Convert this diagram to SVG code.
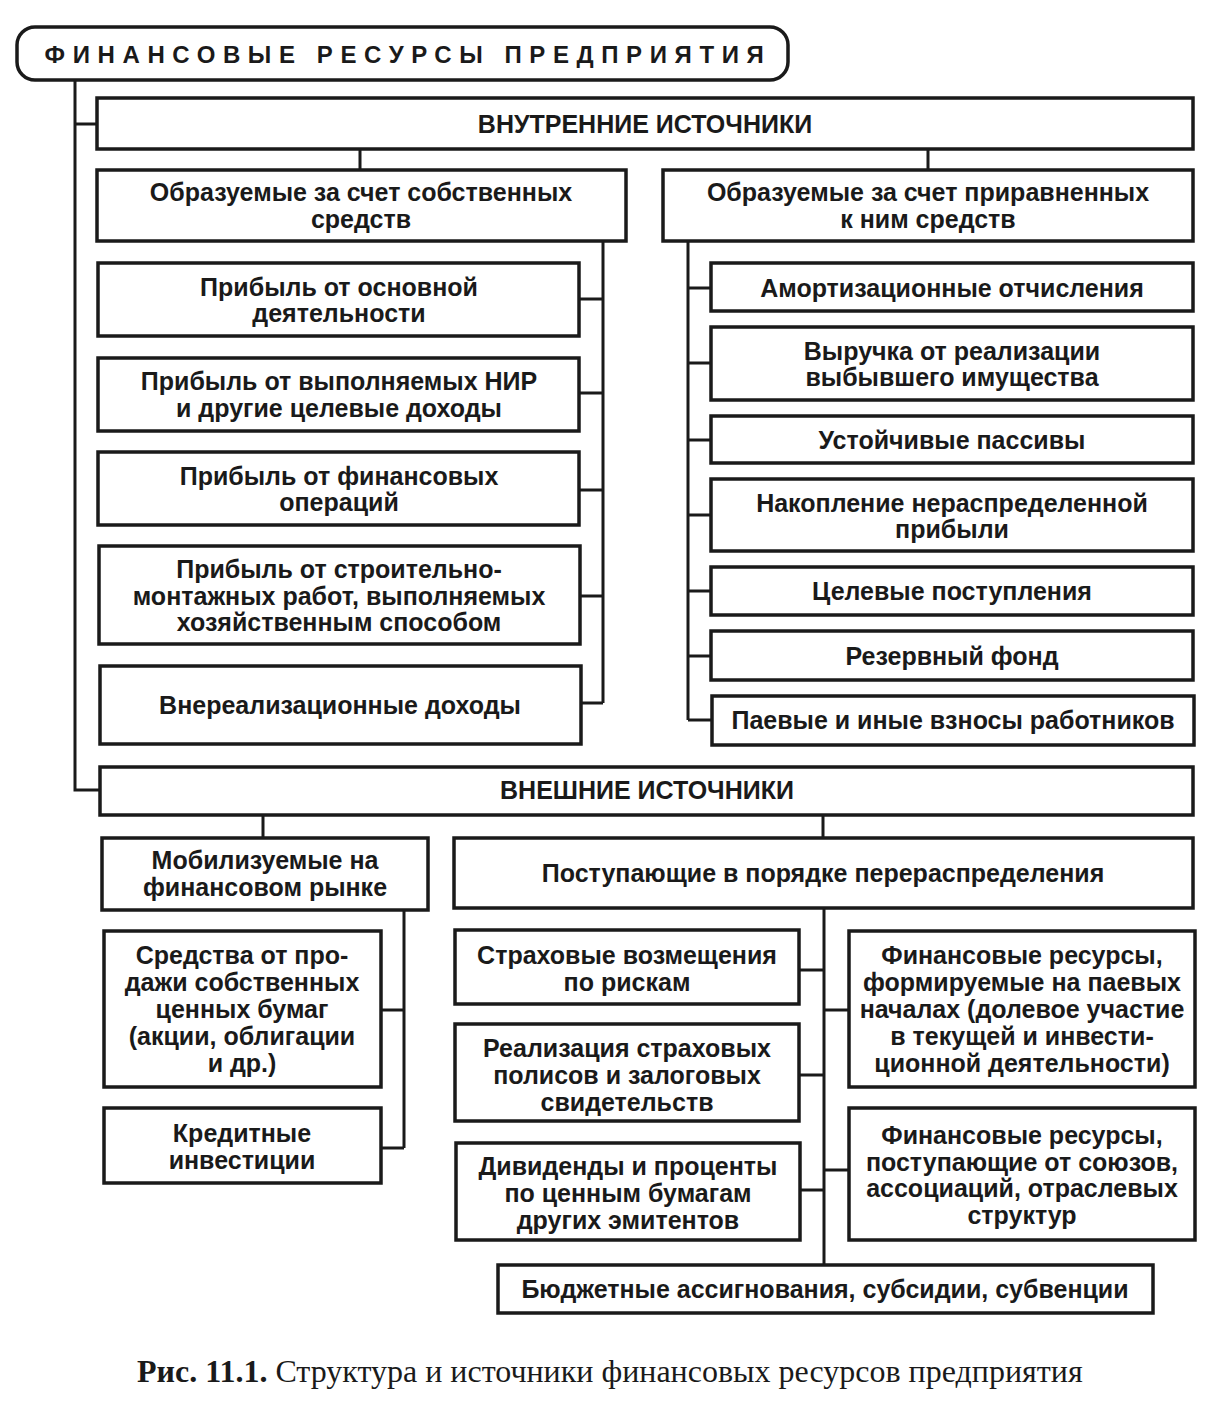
<svg xmlns="http://www.w3.org/2000/svg" width="1215" height="1407" viewBox="0 0 1215 1407">
<style>
.b{fill:#fff;stroke:#1a1a1a;stroke-width:3.5}
.t{font-family:"Liberation Sans",Arial,sans-serif;font-weight:bold;font-size:25px;fill:#1a1a1a;text-anchor:middle;dominant-baseline:central}
.c{fill:none;stroke:#1a1a1a;stroke-width:3}
.cap{font-family:"Liberation Serif","Times New Roman",serif;font-size:32px;fill:#1a1a1a}
</style>
<rect width="1215" height="1407" fill="#fff"/>
<g id="connectors">
<path class="c" d="M75 80V790H100M75 124H97"/>
<path class="c" d="M360 149V170M928 149V170"/>
<path class="c" d="M603 241V703M579 299H603M579 393H603M579 490H603M579 596H603M579 703H603"/>
<path class="c" d="M688 241V720M688 288H711M688 363H711M688 440H711M688 515H711M688 591H711M688 656H711M688 720H711"/>
<path class="c" d="M263 815V838M823 815V838"/>
<path class="c" d="M404 910V1148M381 1010H404M381 1148H404"/>
<path class="c" d="M824 908V1265M799 970H824M799 1075H824M799 1190H824M824 1010H849M824 1170H849"/>
</g>
<g id="title">
<rect class="b" x="17" y="27" width="771" height="53" rx="18"/>
<text class="t" x="408" y="54" style="letter-spacing:7.6px;font-size:24px">ФИНАНСОВЫЕ РЕСУРСЫ ПРЕДПРИЯТИЯ</text>
</g>
<g id="internal">
<rect class="b" x="97" y="98" width="1096" height="51"/>
<text class="t" x="645" y="124">ВНУТРЕННИЕ ИСТОЧНИКИ</text>
</g>
<g id="own">
<rect class="b" x="97" y="170" width="529" height="71"/>
<text class="t" x="361" y="192">Образуемые за счет собственных</text>
<text class="t" x="361" y="219">средств</text>
</g>
<g id="equiv">
<rect class="b" x="663" y="170" width="530" height="71"/>
<text class="t" x="928" y="192">Образуемые за счет приравненных</text>
<text class="t" x="928" y="219">к ним средств</text>
</g>
<g id="l1">
<rect class="b" x="98" y="263" width="481" height="73"/>
<text class="t" x="339" y="287">Прибыль от основной</text>
<text class="t" x="339" y="313">деятельности</text>
</g>
<g id="l2">
<rect class="b" x="98" y="358" width="481" height="73"/>
<text class="t" x="339" y="381">Прибыль от выполняемых НИР</text>
<text class="t" x="339" y="408">и другие целевые доходы</text>
</g>
<g id="l3">
<rect class="b" x="98" y="452" width="481" height="73"/>
<text class="t" x="339" y="476">Прибыль от финансовых</text>
<text class="t" x="339" y="502">операций</text>
</g>
<g id="l4">
<rect class="b" x="99" y="546" width="481" height="98"/>
<text class="t" x="339" y="569">Прибыль от строительно-</text>
<text class="t" x="339" y="596">монтажных работ, выполняемых</text>
<text class="t" x="339" y="622">хозяйственным способом</text>
</g>
<g id="l5">
<rect class="b" x="100" y="666" width="481" height="78"/>
<text class="t" x="340" y="705">Внереализационные доходы</text>
</g>
<g id="r1">
<rect class="b" x="711" y="263" width="482" height="48"/>
<text class="t" x="952" y="288">Амортизационные отчисления</text>
</g>
<g id="r2">
<rect class="b" x="711" y="327" width="482" height="73"/>
<text class="t" x="952" y="351">Выручка от реализации</text>
<text class="t" x="952" y="377">выбывшего имущества</text>
</g>
<g id="r3">
<rect class="b" x="711" y="416" width="482" height="47"/>
<text class="t" x="952" y="440">Устойчивые пассивы</text>
</g>
<g id="r4">
<rect class="b" x="711" y="479" width="482" height="72"/>
<text class="t" x="952" y="503">Накопление нераспределенной</text>
<text class="t" x="952" y="529">прибыли</text>
</g>
<g id="r5">
<rect class="b" x="711" y="567" width="482" height="48"/>
<text class="t" x="952" y="591">Целевые поступления</text>
</g>
<g id="r6">
<rect class="b" x="711" y="631" width="482" height="49"/>
<text class="t" x="952" y="656">Резервный фонд</text>
</g>
<g id="r7">
<rect class="b" x="712" y="696" width="482" height="49"/>
<text class="t" x="953" y="720">Паевые и иные взносы работников</text>
</g>
<g id="external">
<rect class="b" x="100" y="767" width="1093" height="48"/>
<text class="t" x="647" y="790">ВНЕШНИЕ ИСТОЧНИКИ</text>
</g>
<g id="market">
<rect class="b" x="102" y="838" width="326" height="72"/>
<text class="t" x="265" y="860">Мобилизуемые на</text>
<text class="t" x="265" y="887">финансовом рынке</text>
</g>
<g id="redistr">
<rect class="b" x="454" y="838" width="739" height="70"/>
<text class="t" x="823" y="873">Поступающие в порядке перераспределения</text>
</g>
<g id="m1">
<rect class="b" x="104" y="931" width="277" height="156"/>
<text class="t" x="242" y="955">Средства от про-</text>
<text class="t" x="242" y="982">дажи собственных</text>
<text class="t" x="242" y="1009">ценных бумаг</text>
<text class="t" x="242" y="1036">(акции, облигации</text>
<text class="t" x="242" y="1063">и др.)</text>
</g>
<g id="m2">
<rect class="b" x="104" y="1108" width="277" height="75"/>
<text class="t" x="242" y="1133">Кредитные</text>
<text class="t" x="242" y="1160">инвестиции</text>
</g>
<g id="p1">
<rect class="b" x="455" y="930" width="344" height="74"/>
<text class="t" x="627" y="955">Страховые возмещения</text>
<text class="t" x="627" y="982">по рискам</text>
</g>
<g id="p2">
<rect class="b" x="455" y="1024" width="344" height="97"/>
<text class="t" x="627" y="1048">Реализация страховых</text>
<text class="t" x="627" y="1075">полисов и залоговых</text>
<text class="t" x="627" y="1102">свидетельств</text>
</g>
<g id="p3">
<rect class="b" x="456" y="1143" width="344" height="97"/>
<text class="t" x="628" y="1166">Дивиденды и проценты</text>
<text class="t" x="628" y="1193">по ценным бумагам</text>
<text class="t" x="628" y="1220">других эмитентов</text>
</g>
<g id="p4">
<rect class="b" x="849" y="931" width="346" height="156"/>
<text class="t" x="1022" y="955">Финансовые ресурсы,</text>
<text class="t" x="1022" y="982">формируемые на паевых</text>
<text class="t" x="1022" y="1009">началах (долевое участие</text>
<text class="t" x="1022" y="1036">в текущей и инвести-</text>
<text class="t" x="1022" y="1063">ционной деятельности)</text>
</g>
<g id="p5">
<rect class="b" x="849" y="1108" width="346" height="132"/>
<text class="t" x="1022" y="1135">Финансовые ресурсы,</text>
<text class="t" x="1022" y="1162">поступающие от союзов,</text>
<text class="t" x="1022" y="1188">ассоциаций, отраслевых</text>
<text class="t" x="1022" y="1215">структур</text>
</g>
<g id="budget">
<rect class="b" x="498" y="1265" width="655" height="48"/>
<text class="t" x="825" y="1289">Бюджетные ассигнования, субсидии, субвенции</text>
</g>
<text class="cap" x="137" y="1382"><tspan font-weight="bold">Рис. 11.1.</tspan> Структура и источники финансовых ресурсов предприятия</text>
</svg>
